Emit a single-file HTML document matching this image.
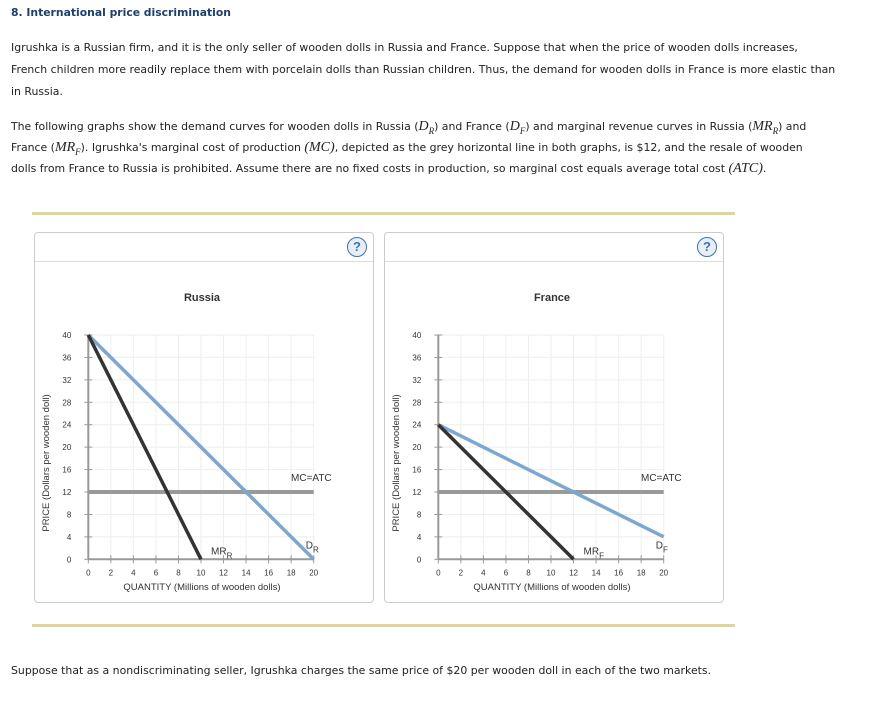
<!DOCTYPE html>
<html><head><meta charset="utf-8">
<style>
body{margin:0;width:874px;height:708px;background:#fff;font-family:"DejaVu Sans",Verdana,sans-serif;font-size:10.9px;color:#222;position:relative;overflow:hidden}
.t{position:absolute;left:11px;white-space:nowrap}
.m{font-family:"Liberation Serif",serif;font-style:italic;font-size:14px}
.rule{position:absolute;left:32px;width:703px;height:3px;background:#e0d49a}
.panel{position:absolute;top:232px;width:338px;height:369px;border:1px solid #ccc;border-radius:4px;background:#fff}
.panel .hdr{position:absolute;left:0;right:0;top:28px;border-top:1px solid #ddd}
.help{position:absolute;right:6px;top:4px;width:18px;height:18px;border:1.5px solid #3a75b8;border-radius:50%;background:#e8eef5;color:#3a75b8;font:bold 13px "Liberation Sans",sans-serif;text-align:center;line-height:18px}
svg text{font-family:"Liberation Sans",Arial,sans-serif}
</style></head><body>
<div class="t" style="top:6px;font-weight:bold;color:#1d3f6e;font-size:10.8px">8. International price discrimination</div>
<div class="t" style="top:41px">Igrushka is a Russian firm, and it is the only seller of wooden dolls in Russia and France. Suppose that when the price of wooden dolls increases,</div>
<div class="t" style="top:63px">French children more readily replace them with porcelain dolls than Russian children. Thus, the demand for wooden dolls in France is more elastic than</div>
<div class="t" style="top:85px">in Russia.</div>
<div class="t" style="top:119px">The following graphs show the demand curves for wooden dolls in Russia (<span class="m">D<sub style="font-size:9px">R</sub></span>) and France (<span class="m">D<sub style="font-size:9px">F</sub></span>) and marginal revenue curves in Russia (<span class="m">MR<sub style="font-size:9px">R</sub></span>) and</div>
<div class="t" style="top:140px">France (<span class="m">MR<sub style="font-size:9px">F</sub></span>). Igrushka's marginal cost of production <span class="m">(MC)</span>, depicted as the grey horizontal line in both graphs, is $12, and the resale of wooden</div>
<div class="t" style="top:161px">dolls from France to Russia is prohibited. Assume there are no fixed costs in production, so marginal cost equals average total cost <span class="m">(ATC)</span>.</div>
<div class="rule" style="top:212px"></div>
<div class="panel" style="left:34px"><div class="hdr"></div><div class="help">?</div>
<svg id="svgR" width="338" height="369" style="position:absolute;left:0;top:0"></svg></div>
<div class="panel" style="left:384px"><div class="hdr"></div><div class="help">?</div>
<svg id="svgF" width="338" height="369" style="position:absolute;left:0;top:0"></svg></div>
<div class="rule" style="top:624px"></div>
<div class="t" style="top:664px">Suppose that as a nondiscriminating seller, Igrushka charges the same price of $20 per wooden doll in each of the two markets.</div>
<script>
const xTicks=[0,2,4,6,8,10,12,14,16,18,20];
const yTicks=[0,4,8,12,16,20,24,28,32,36,40];
const mc=12;
const russiaDemand=[[0,40],[20,0]];
const russiaMR=[[0,40],[10,0]];
const franceDemand=[[0,24],[20,4]];
const franceMR=[[0,24],[12,0]];
const NS="http://www.w3.org/2000/svg";
function el(p,t,a){const e=document.createElementNS(NS,t);for(const k in a)e.setAttribute(k,a[k]);p.appendChild(e);return e;}
function draw(id,title,D,MR,sub){
const s=document.getElementById(id);
const X=v=>53.3+v*(225.4/20), Y=v=>326.3-v*(224.3/40);
let t=el(s,'text',{x:167,y:68,'font-size':11,'text-anchor':'middle','font-weight':'bold',fill:'#333'});t.textContent=title;

xTicks.forEach(v=>{if(v>0){el(s,'line',{x1:X(v),x2:X(v),y1:Y(0),y2:Y(40),stroke:'#eee'});}
 el(s,'line',{x1:X(v),x2:X(v),y1:Y(0)-4,y2:Y(0)+4,stroke:'#999'});
 const l=el(s,'text',{x:X(v),y:Y(0)+16,'font-size':8,'text-anchor':'middle',fill:'#333'});l.textContent=v;
 });
yTicks.forEach(v=>{if(v>0)el(s,'line',{x1:X(0),x2:X(20),y1:Y(v),y2:Y(v),stroke:'#eee'});
 el(s,'line',{x1:X(0)-4,x2:X(0)+4,y1:Y(v),y2:Y(v),stroke:'#999'});
 const l=el(s,'text',{x:X(0)-17,y:Y(v)+3,'font-size':8,'text-anchor':'end',fill:'#333'});l.textContent=v;
 });
el(s,'line',{x1:X(0),x2:X(0),y1:Y(0),y2:Y(40),stroke:'#999','stroke-width':2});
el(s,'line',{x1:X(0),x2:X(20),y1:Y(0),y2:Y(0),stroke:'#999','stroke-width':2});
let m=el(s,'line',{x1:X(0),x2:X(20),y1:Y(mc),y2:Y(mc),stroke:'#999','stroke-width':4});

let d=el(s,'line',{x1:X(D[0][0]),y1:Y(D[0][1]),x2:X(D[1][0]),y2:Y(D[1][1]),stroke:'#7ba7d0','stroke-width':3.5});

let r=el(s,'line',{x1:X(MR[0][0]),y1:Y(MR[0][1]),x2:X(MR[1][0]),y2:Y(MR[1][1]),stroke:'#333','stroke-width':3.5});

let a=el(s,'text',{x:256,y:248,'font-size':10,fill:'#333'});a.textContent='MC=ATC';

let b=el(s,'text',{x:X(MR[1][0])+10,y:Y(0)-5,'font-size':10,fill:'#333'});b.innerHTML='MR<tspan dy="4" font-size="8">'+sub+'</tspan>';

let c=el(s,'text',{x:X(19.3),y:Y(0)-11,'font-size':10,fill:'#333'});c.innerHTML='D<tspan dy="4" font-size="8">'+sub+'</tspan>';

let xt=el(s,'text',{x:167,y:357,'font-size':9.5,'text-anchor':'middle',fill:'#333'});xt.textContent='QUANTITY (Millions of wooden dolls)';

let yt=el(s,'text',{x:0,y:0,'font-size':9.5,'text-anchor':'middle',fill:'#333',transform:'translate(14,230) rotate(-90)'});yt.textContent='PRICE (Dollars per wooden doll)';

}
draw('svgR','Russia',russiaDemand,russiaMR,'R');
draw('svgF','France',franceDemand,franceMR,'F');
</script>
</body></html>
